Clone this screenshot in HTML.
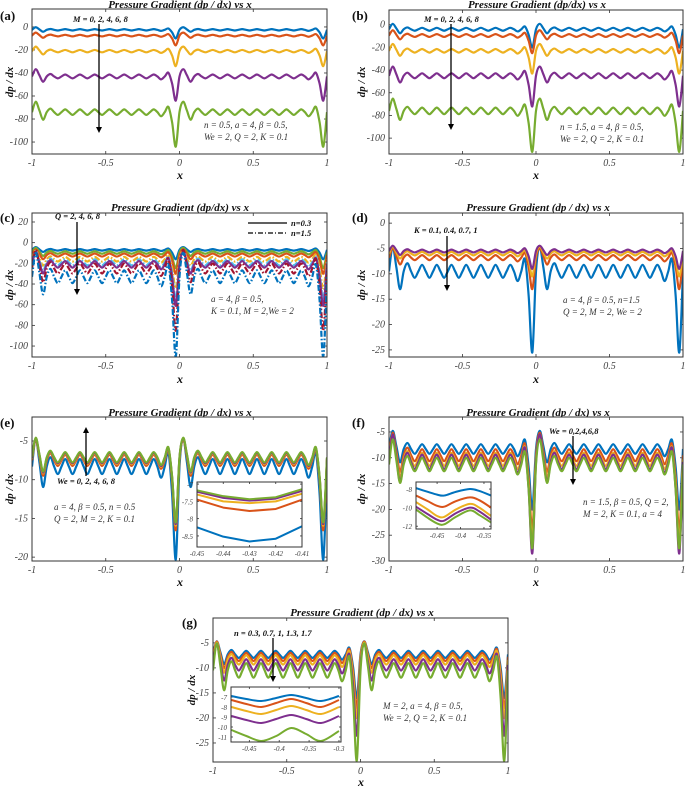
<!DOCTYPE html>
<html><head><meta charset="utf-8">
<style>
html,body{margin:0;padding:0;background:#fff;}
svg{display:block;font-family:"Liberation Serif",serif;}
.t{font-weight:bold;font-style:italic;font-size:11px;fill:#111;}
.pl{font-weight:bold;font-size:13px;fill:#111;}
.yl{font-weight:bold;font-style:italic;font-size:11px;fill:#111;}
.xl{font-weight:bold;font-style:italic;font-size:12px;fill:#111;}
.an{font-weight:bold;font-style:italic;font-size:8.5px;fill:#111;}
.pr{font-style:italic;font-size:9px;fill:#333;}
.tk{font-style:italic;font-size:10px;fill:#444;}
.itk{font-style:italic;font-size:7px;fill:#444;}
</style></head>
<body>
<svg id="fig" width="685" height="787" viewBox="0 0 685 787">
<defs></defs>
<text class="t" x="180" y="8" text-anchor="middle">Pressure Gradient (dp / dx) vs x</text>
<text class="t" x="537" y="8" text-anchor="middle">Pressure Gradient (dp/dx) vs x</text>
<text class="t" x="180" y="211" text-anchor="middle">Pressure Gradient (dp/dx) vs x</text>
<text class="t" x="538" y="211" text-anchor="middle">Pressure Gradient (dp / dx) vs x</text>
<text class="t" x="180" y="416" text-anchor="middle">Pressure Gradient (dp / dx) vs x</text>
<text class="t" x="538" y="416" text-anchor="middle">Pressure Gradient (dp / dx) vs x</text>
<text class="t" x="362" y="616" text-anchor="middle">Pressure Gradient (dp / dx) vs x</text>

<text class="pl" x="0" y="20">(a)</text>
<text class="pl" x="352" y="20">(b)</text>
<text class="pl" x="0" y="222">(c)</text>
<text class="pl" x="352" y="222">(d)</text>
<text class="pl" x="0" y="427">(e)</text>
<text class="pl" x="352" y="427">(f)</text>
<text class="pl" x="182" y="627">(g)</text>

<text class="yl" transform="translate(13,82) rotate(-90)" text-anchor="middle">dp / dx</text>
<text class="yl" transform="translate(365,82) rotate(-90)" text-anchor="middle">dp / dx</text>
<text class="yl" transform="translate(13,285) rotate(-90)" text-anchor="middle">dp / dx</text>
<text class="yl" transform="translate(365,285) rotate(-90)" text-anchor="middle">dp / dx</text>
<text class="yl" transform="translate(13,489) rotate(-90)" text-anchor="middle">dp / dx</text>
<text class="yl" transform="translate(365,489) rotate(-90)" text-anchor="middle">dp / dx</text>
<text class="yl" transform="translate(195,690) rotate(-90)" text-anchor="middle">dp / dx</text>

<text class="xl" x="180" y="179" text-anchor="middle">x</text>
<text class="xl" x="536" y="179" text-anchor="middle">x</text>
<text class="xl" x="180" y="383" text-anchor="middle">x</text>
<text class="xl" x="536" y="383" text-anchor="middle">x</text>
<text class="xl" x="180" y="586" text-anchor="middle">x</text>
<text class="xl" x="536" y="586" text-anchor="middle">x</text>
<text class="xl" x="361" y="786" text-anchor="middle">x</text>

<g id="plots"></g>

<text class="an" x="73" y="22">M = 0, 2, 4, 6, 8</text>
<text class="pr" x="204" y="128">n = 0.5, a = 4, β = 0.5,</text>
<text class="pr" x="204" y="140">We = 2, Q = 2, K = 0.1</text>
<text class="an" x="424" y="22">M = 0, 2, 4, 6, 8</text>
<text class="pr" x="560" y="130">n = 1.5, a = 4, β = 0.5,</text>
<text class="pr" x="560" y="142">We = 2, Q = 2, K = 0.1</text>
<text class="an" x="55" y="219">Q = 2, 4, 6, 8</text>
<text class="pr" x="211" y="302">a = 4, β = 0.5,</text>
<text class="pr" x="211" y="314">K = 0.1, M = 2,We = 2</text>
<text class="an" x="414" y="233">K = 0.1, 0.4, 0.7, 1</text>
<text class="pr" x="563" y="303">a = 4, β = 0.5, n=1.5</text>
<text class="pr" x="563" y="315">Q = 2, M = 2, We = 2</text>
<text class="an" x="57" y="484">We = 0, 2, 4, 6, 8</text>
<text class="pr" x="54" y="510">a = 4, β = 0.5, n = 0.5</text>
<text class="pr" x="54" y="522">Q = 2, M = 2, K = 0.1</text>
<text class="an" x="549" y="434">We = 0,2,4,6,8</text>
<text class="pr" x="583" y="505">n = 1.5, β = 0.5, Q = 2,</text>
<text class="pr" x="583" y="517">M = 2, K = 0.1, a = 4</text>
<text class="an" x="234" y="636">n = 0.3, 0.7, 1, 1.3, 1.7</text>
<text class="pr" x="383" y="709">M = 2, a = 4, β = 0.5,</text>
<text class="pr" x="383" y="721">We = 2, Q = 2, K = 0.1</text>

<g>
<line x1="248" y1="223" x2="287" y2="223" stroke="#000" stroke-width="1.3"/>
<text class="an" x="291" y="226">n=0.3</text>
<line x1="248" y1="233" x2="287" y2="233" stroke="#000" stroke-width="1.3" stroke-dasharray="5 2 1 2"/>
<text class="an" x="291" y="236">n=1.5</text>
</g>
<g id="arrows"></g>
</svg>
<script>
// Shared normalized oscillation shape sampled at x = -1 + i*0.025 (i = 0..80)
const SHAPE = [0,0.3,0.05,-0.22,0,0.1,0,-0.08,0,0.08,0,-0.08,0,0.08,0,-0.08,0,0.08,0,-0.08,0,0.08,0,-0.08,0,0.08,0,-0.08,0,0.08,0,-0.08,0,0.08,0,-0.12,0,0.15,-0.3,-1,
0,0.3,0.05,-0.22,0,0.1,0,-0.08,0,0.08,0,-0.08,0,0.08,0,-0.08,0,0.08,0,-0.08,0,0.08,0,-0.08,0,0.08,0,-0.08,0,0.08,0,-0.08,0,0.08,0,-0.12,0,0.15,-0.3,-1,0];
const xTicks = [-1,-0.5,0,0.5,1];
const xTickLabels = ['-1','-0.5','0','0.5','1'];
const aBase = [-2.5,-7.5,-21,-43,-74];
const aAmp = [7.5,8.5,13,21,30];
const aYTicks = [0,-20,-40,-60,-80,-100];
const bBase = [-4,-9.5,-23,-45,-76];
const bAmp = [16,15.5,20,27,36];
const bYTicks = [0,-20,-40,-60,-80,-100];
const cBase = [-7,-9.5,-12,-16,-19,-21,-25,-33];
const cAmp = [9,15,18,28,36,40,60,77];
const cDash = [0,0,0,1,1,0,1,1];
const cYTicks = [20,0,-20,-40,-60,-80,-100];
const dBase = [-9.5,-6.8,-6,-5.5];
const dAmp = [16,6.2,4.5,3.5];
const dYTicks = [0,-5,-10,-15,-20,-25];
const eBase = [-8.3,-7.5,-7.3,-7.2,-7.1];
const eAmp = [12,9,8.6,8.5,8.4];
const eYTicks = [-5,-10,-15,-20];
const eInsetX = [-0.45,-0.44,-0.43,-0.42,-0.41];
const eInsetBlue = [-8.25,-8.52,-8.66,-8.58,-8.22];
const eInsetOrange = [-7.45,-7.68,-7.78,-7.72,-7.45];
const eInsetYellow = [-7.3,-7.5,-7.55,-7.5,-7.28];
const eInsetPurple = [-7.22,-7.4,-7.48,-7.42,-7.2];
const eInsetGreen = [-7.18,-7.35,-7.44,-7.38,-7.15];
const fBase = [-8.3,-9.5,-10.3,-10.8,-11.3];
const fAmp = [11.7,14.5,15.7,17.7,16.2];
const fYTicks = [-5,-10,-15,-20,-25,-30];
const fInsetX = [-0.495,-0.47,-0.45,-0.435,-0.41,-0.38,-0.36,-0.335];
const fInsetBlue = [-7.9,-8.3,-8.6,-8.7,-8.3,-8.0,-8.2,-8.7];
const fInsetOrange = [-8.7,-9.3,-9.8,-9.9,-9.3,-8.9,-9.2,-10.0];
const fInsetYellow = [-9.4,-10.2,-10.9,-11.0,-10.2,-9.6,-10.0,-10.9];
const fInsetPurple = [-9.9,-10.7,-11.3,-11.4,-10.6,-10.0,-10.4,-11.3];
const fInsetGreen = [-10.2,-11.1,-11.7,-11.8,-11.0,-10.3,-10.8,-11.6];
const gBase = [-7.3,-7.8,-8.4,-9.4,-10.5];
const gAmp = [8.7,10.2,11.6,14.1,18];
const gYTicks = [-5,-10,-15,-20,-25];
const gInsetX = [-0.48,-0.455,-0.43,-0.405,-0.38,-0.355,-0.33,-0.3];
const gInsetBlue = [-6.9,-7.2,-7.4,-7.1,-6.8,-7.1,-7.4,-6.9];
const gInsetOrange = [-7.3,-7.7,-8.0,-7.6,-7.2,-7.6,-8.0,-7.3];
const gInsetYellow = [-8.0,-8.4,-8.7,-8.3,-7.9,-8.3,-8.7,-8.0];
const gInsetPurple = [-8.9,-9.3,-9.6,-9.2,-8.8,-9.2,-9.6,-8.9];
const gInsetGreen = [-10.3,-10.9,-11.4,-10.9,-10.1,-10.7,-11.4,-10.4];

const C5 = ['#0072BD','#D95319','#EDB120','#7E2F8E','#77AC30'];
const C8 = ['#0072BD','#77AC30','#D95319','#EDB120','#4DBEEE','#7E2F8E','#A2142F','#0072BD'];
const NS = 'http://www.w3.org/2000/svg';
const root = document.getElementById('plots');
const defs = document.querySelector('defs');

function mk(tag, attrs, parent){
  const e = document.createElementNS(NS, tag);
  for (const k in attrs) e.setAttribute(k, attrs[k]);
  parent.appendChild(e);
  return e;
}
function smoothPath(pts){
  let d = 'M' + pts[0][0].toFixed(2) + ',' + pts[0][1].toFixed(2);
  for (let i = 0; i < pts.length - 1; i++){
    const p0 = pts[Math.max(i-1,0)], p1 = pts[i], p2 = pts[i+1], p3 = pts[Math.min(i+2,pts.length-1)];
    const c1x = p1[0] + (p2[0]-p0[0])/6, c1y = p1[1] + (p2[1]-p0[1])/6;
    const c2x = p2[0] - (p3[0]-p1[0])/6, c2y = p2[1] - (p3[1]-p1[1])/6;
    d += ' C' + c1x.toFixed(2)+','+c1y.toFixed(2)+' '+c2x.toFixed(2)+','+c2y.toFixed(2)+' '+p2[0].toFixed(2)+','+p2[1].toFixed(2);
  }
  return d;
}
function axes(id, L, R, T, B, xmin, xmax, ymin, ymax, yTicks, xT, xTL, cls, tickLen){
  const g = mk('g', {}, root);
  
  
  const sx = v => L + (v - xmin) / (xmax - xmin) * (R - L);
  const sy = v => T + (ymax - v) / (ymax - ymin) * (B - T);
  const bg = mk('rect', {x:L, y:T, width:R-L, height:B-T, fill:'#fff'}, g);
  
  
  const cp = mk('clipPath', {id:'clip-' + id}, defs);
  mk('rect', {x:L, y:T, width:R-L, height:B-T}, cp);
  yTicks.forEach(v => {
    const y = sy(v);
    mk('line', {x1:L, y1:y, x2:L+tickLen, y2:y, stroke:'#333', 'stroke-width':0.8}, g);
    mk('line', {x1:R, y1:y, x2:R-tickLen, y2:y, stroke:'#333', 'stroke-width':0.8}, g);
    const t = mk('text', {x:L-4, y:y+3, 'text-anchor':'end', class:cls}, g);
    t.textContent = String(v);
    
    
  });
  xT.forEach((v, i) => {
    const x = sx(v);
    mk('line', {x1:x, y1:B, x2:x, y2:B-tickLen, stroke:'#333', 'stroke-width':0.8}, g);
    mk('line', {x1:x, y1:T, x2:x, y2:T+tickLen, stroke:'#333', 'stroke-width':0.8}, g);
    const t = mk('text', {x:x, y:B + (cls === 'tk' ? 12 : 9), 'text-anchor':'middle', class:cls}, g);
    t.textContent = xTL[i];
    
    
  });
  const series = mk('g', {'clip-path':'url(#clip-' + id + ')'}, g);
  
  
  const box = mk('rect', {x:L, y:T, width:R-L, height:B-T, fill:'none', stroke:'#333', 'stroke-width':1}, g);
  
  
  return {sx, sy, series, box, g};
}
function mainPanel(id, L, R, T, B, ymin, ymax, yTicks, bases, amps, colors, dashes){
  const ax = axes(id, L, R, T, B, -1, 1, ymin, ymax, yTicks, xTicks, xTickLabels, 'tk', 3);
  bases.forEach((b, s) => {
    const pts = SHAPE.map((v, i) => [ax.sx(-1 + i*0.025), ax.sy(b + amps[s]*v)]);
    const p = mk('path', {d:smoothPath(pts), fill:'none', stroke:colors[s], 'stroke-width':2.2, 'stroke-linejoin':'round'}, ax.series);
    if (dashes && dashes[s]) p.setAttribute('stroke-dasharray', '6 2 1.5 2');
    
    
  });
  return ax;
}
function inset(id, L, R, T, B, xmin, xmax, ymin, ymax, yT, xT, xTL, xs, seriesList, smooth){
  const ax = axes(id, L, R, T, B, xmin, xmax, ymin, ymax, yT, xT, xTL, 'itk', 2);
  seriesList.forEach((ys, s) => {
    const pts = ys.map((v, i) => [ax.sx(xs[i]), ax.sy(v)]);
    const d = smooth ? smoothPath(pts) : 'M' + pts.map(p => p[0].toFixed(2)+','+p[1].toFixed(2)).join(' L');
    const p = mk('path', {d:d, fill:'none', stroke:C5[s], 'stroke-width':2, 'stroke-linejoin':'round'}, ax.series);
    
    
  });
}

mainPanel('a', 32, 327, 9, 154, -110.4, 15.6, aYTicks, aBase, aAmp, C5, null);
mainPanel('b', 389, 683, 10, 154, -114, 13, bYTicks, bBase, bAmp, C5, null);
mainPanel('c', 32, 327, 213, 357, -110.6, 28.7, cYTicks, cBase, cAmp, C8, cDash);
mainPanel('d', 389, 683, 213, 357, -26.4, 2, dYTicks, dBase, dAmp, C5.slice(0,4), null);
mainPanel('e', 32, 327, 417, 561, -20.5, -1.9, eYTicks, eBase, eAmp, C5, null);
mainPanel('f', 389, 683, 417, 561, -30, -2.1, fYTicks, fBase, fAmp, C5, null);
mainPanel('g', 213, 508, 618, 762, -28.8, -0.03, gYTicks, gBase, gAmp, C5, null);

inset('e-inset', 197, 302, 482, 547, -0.45, -0.41, -8.82, -6.94, [-7,-7.5,-8,-8.5], eInsetX, ['-0.45','-0.44','-0.43','-0.42','-0.41'], eInsetX,
  [eInsetBlue, eInsetOrange, eInsetYellow, eInsetPurple, eInsetGreen], false);
inset('f-inset', 416, 491, 482, 529, -0.495, -0.335, -12.3, -7.24, [-8,-10,-12], [-0.45,-0.4,-0.35], ['-0.45','-0.4','-0.35'], fInsetX,
  [fInsetBlue, fInsetOrange, fInsetYellow, fInsetPurple, fInsetGreen], true);
inset('g-inset', 231, 341, 687, 742, -0.4807, -0.2966, -11.5, -6.0, [-7,-8,-9,-10,-11], [-0.45,-0.4,-0.35,-0.3], ['-0.45','-0.4','-0.35','-0.3'], gInsetX,
  [gInsetBlue, gInsetOrange, gInsetYellow, gInsetPurple, gInsetGreen], true);

const arrowsG = document.getElementById('arrows');
function arrow(name, x, y1, y2){
  const g = mk('g', {}, arrowsG);
  
  
  const dir = y2 > y1 ? 1 : -1;
  mk('line', {x1:x, y1:y1, x2:x, y2:y2 - dir*5, stroke:'#000', 'stroke-width':1.3}, g);
  mk('polygon', {points:(x-3)+','+(y2-dir*6)+' '+(x+3)+','+(y2-dir*6)+' '+x+','+y2, fill:'#000'}, g);
}
arrow('arrow-a', 99, 24, 133);
arrow('arrow-b', 451, 24, 130);
arrow('arrow-c', 77, 222, 295);
arrow('arrow-d', 447, 236, 291);
arrow('arrow-e', 86, 476, 427);
arrow('arrow-f', 573, 436, 485);
arrow('arrow-g', 273, 638, 682);
</script>
</body></html>
